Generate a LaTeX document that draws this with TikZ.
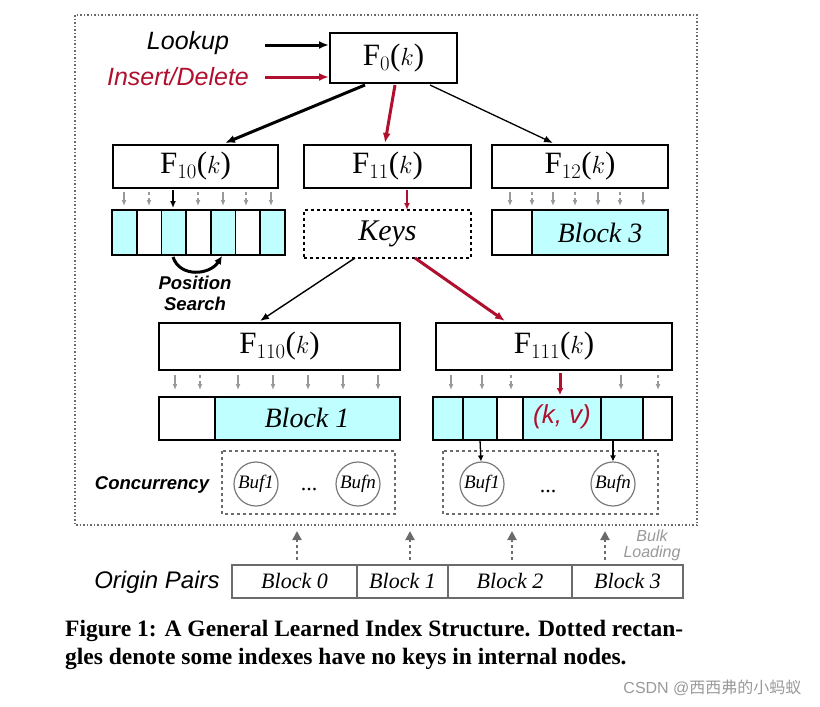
\documentclass[tikz,border=0pt]{standalone}
\usepackage{fontspec}
\setmainfont{Liberation Serif}
\setsansfont{Liberation Sans}
\newfontfamily\cjk{Noto Sans CJK SC}
\usetikzlibrary{arrows.meta,calc}
\definecolor{cy}{HTML}{BFFFFF}
\definecolor{rd}{HTML}{B0102E}
\definecolor{gr}{HTML}{999999}
\begin{document}
\begin{tikzpicture}[x=1pt,y=-1pt,
 box/.style={draw,line width=2pt,inner sep=0},
 fn/.style={font=\fontsize{31}{33}\selectfont},
 sa/.style={gr,line width=1.3pt,-{Latex[length=6pt,width=5pt]}},
 da/.style={sa,dashed},
 ba/.style={black,line width=1.8pt,-{Latex[length=7pt,width=6pt]}},
 ra/.style={rd,line width=3pt,-{Latex[length=10pt,width=8pt]}},
 buf/.style={circle,draw=gr!80!black,line width=1.2pt,minimum size=44pt,inner sep=0,font=\fontsize{19}{20}\selectfont\itshape},
 up/.style={gr!70!black,line width=2pt,dashed,-{Triangle[length=9pt,width=9pt]}},
 cell/.style={draw,line width=1.8pt}]
\useasboundingbox (0,0) rectangle (820,707);
\draw[gr!70!black,dotted,line width=1.5pt] (75,15) rectangle (697,525);
% top
\node[font=\fontsize{25}{26}\selectfont\sffamily\itshape] (lk) at (188,43) {Lookup};
\node[font=\fontsize{25}{26}\selectfont\sffamily\itshape,text=rd] (id) at (178,77) {Insert/Delete};
\node[box,minimum width=127pt,minimum height=50pt,fn] (f0) at (393.5,58) {F$_0$($k$)};
\coordinate (lka) at (265,45); \coordinate (ida) at (265,77);
\draw[black,line width=3pt,-{Latex[length=10pt,width=8pt]}] (lka) -- (f0.west|-lka);
\draw[ra] (ida) -- (f0.west|-ida);
\node[box,minimum width=165pt,minimum height=43pt,fn] (f10) at (195.5,166.5) {F$_{10}$($k$)};
\node[box,minimum width=167pt,minimum height=43pt,fn] (f11) at (387.5,166.5) {F$_{11}$($k$)};
\node[box,minimum width=176pt,minimum height=43pt,fn] (f12) at (580,166.5) {F$_{12}$($k$)};
\draw[black,line width=3pt,-{Latex[length=10pt,width=8pt]}] (365,85) -- (225,143);
\draw[ra] (395,85) -- (385,143);
\draw[black,line width=1.3pt,-{Latex[length=9pt,width=7pt]}] (430,85) -- (553,143);
% F10 array
\foreach \i in {0,...,6}{
  \pgfmathsetmacro\xa{112+\i*24.7}
  \pgfmathtruncatemacro\c{mod(\i,2)}
  \ifnum\c=0 \fill[cy] (\xa,210) rectangle ++(24.7,45);\fi
  \draw[cell] (\xa,210) rectangle ++(24.7,45);}
\coordinate (p1) at (173,257); \coordinate (p2) at (222,256);
\foreach \x/\s in {124/sa,149/da,198/da,223/sa,246/da,271/sa}{\draw[\s] (\x,192) -- (\x,206);}
\draw[ba,line width=2.2pt] (173,190) -- (173,208);
\draw[black,line width=3pt,-{Latex[length=8pt,width=8pt]}] (p1) .. controls (180,278) and (210,275) .. (p2);
\node[font=\fontsize{18.5}{21}\selectfont\sffamily\bfseries\itshape,align=center] (ps) at (195,293) {Position\\Search};
% Keys
\node[draw,dashed,line width=2pt,minimum width=167pt,minimum height=48pt,font=\fontsize{30}{31}\selectfont\itshape] (keys) at (387.5,234) {Keys};
\draw[ra,line width=2.2pt,-{Latex[length=7pt,width=6pt]}] (407,190) -- (407,210);
% F12 array
\foreach \x/\s in {510/sa,532/da,553/sa,575/da,598/sa,620/da,643/sa}{\draw[\s] (\x,192) -- (\x,206);}
\fill[cy] (532,210) rectangle (668,255);
\draw[cell] (492,210) rectangle (668,255); \draw[cell] (532,210) -- (532,255);
\node[font=\fontsize{28}{30}\selectfont\itshape] (b3) at (600,233) {Block 3};
% level 3
\node[box,minimum width=241pt,minimum height=47pt,fn] (f110) at (279.5,346.5) {F$_{110}$($k$)};
\node[box,minimum width=236pt,minimum height=47pt,fn] (f111) at (554,346.5) {F$_{111}$($k$)};
\draw[black,line width=1.4pt,-{Latex[length=9pt,width=7pt]}] (355,258) -- (260,321);
\draw[ra] (415,258) -- (505,321);
\foreach \x/\s in {175/sa,200/da,238/sa,273/sa,308/sa,343/sa,378/sa}{\draw[\s] (\x,375) -- (\x,390);}
\fill[cy] (215,397) rectangle (400,440);
\draw[cell] (159,397) rectangle (400,440); \draw[cell] (215,397) -- (215,440);
\node[font=\fontsize{28}{30}\selectfont\itshape] (b1) at (307,418) {Block 1};
\foreach \x/\s in {451/sa,482/sa,511/da,621/sa,658/da}{\draw[\s] (\x,375) -- (\x,390);}
\draw[ra,line width=3pt,-{Latex[length=7pt,width=7pt]}] (560,373) -- (560,395);
\fill[cy] (433,397) rectangle (497,440); \fill[cy] (523,397) rectangle (643,440);
\draw[cell] (433,397) rectangle (672,440);
\foreach \x in {463,497,523,601,643}{\draw[cell] (\x,397) -- (\x,440);}
\node[font=\fontsize{26}{28}\selectfont\sffamily\itshape,text=rd] (kv) at (562,417) {(k, v)};
% buffers
\draw[gr!70!black,dashed,line width=1.4pt] (222,451) rectangle (395,514);
\draw[gr!70!black,dashed,line width=1.4pt] (443,451) rectangle (658,514);
\node[buf] (bl1) at (256,484) {Buf1};
\node[buf] (bln) at (358,484) {Bufn};
\node[font=\fontsize{22}{22}\selectfont] (d1) at (309,490) {...};
\node[buf] (br1) at (482,484) {Buf1};
\node[buf] (brn) at (613,484) {Bufn};
\node[font=\fontsize{22}{22}\selectfont] (d2) at (548,492) {...};
\draw[ba,line width=1.3pt,-{Latex[length=6pt,width=6pt]}] (480,440) -- (br1);
\draw[ba,line width=1.3pt,-{Latex[length=6pt,width=6pt]}] (613,440) -- (brn);
\node[font=\fontsize{18.5}{20}\selectfont\sffamily\bfseries\itshape] (cc) at (152,485) {Concurrency};
% bottom
\node[font=\fontsize{24}{26}\selectfont\sffamily\itshape] (op) at (157,582) {Origin Pairs};
\draw[gr!70!black,line width=1.4pt] (232,565) rectangle (683,598);
\foreach \x in {357,448,572}{\draw[gr!70!black,line width=1.4pt] (\x,565) -- (\x,598);}
\foreach \n/\x/\t in {o0/294.5/Block 0,o1/402.5/Block 1,o2/510/Block 2,o3/627.5/Block 3}{
  \node[font=\fontsize{22}{24}\selectfont\itshape] (\n) at (\x,581) {\t};}
\foreach \x in {297,410,512,605}{\draw[up] (\x,560) -- (\x,531);}
\node[text=gr,font=\fontsize{16}{16}\selectfont\sffamily\itshape,align=center] (bl) at (652,545) {Bulk\\Loading};
% caption
\node[anchor=north west,align=left,inner sep=0,font=\fontsize{23.5}{28}\selectfont\bfseries] (cap) at (65,620) {Figure 1: A General Learned Index Structure. Dotted rectan-\\gles denote some indexes have no keys in internal nodes.};
\node[anchor=east,text=gr,font=\fontsize{16}{16}\selectfont\sffamily] (wm) at (805,688) {CSDN @{\cjk 西西弗的小蚂蚁}};
\end{tikzpicture}
\end{document}
